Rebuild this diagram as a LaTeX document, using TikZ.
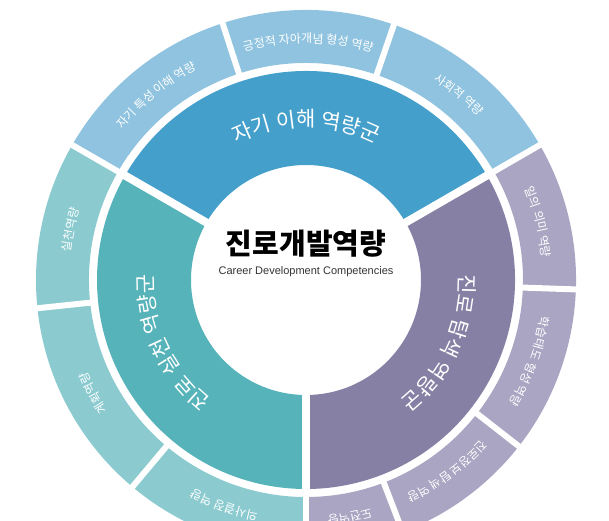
\documentclass[tikz,border=0pt]{standalone}
\usepackage{fontspec}
\newfontfamily\kr{Noto Sans CJK KR}
\newfontfamily\lat{Liberation Sans}
\usetikzlibrary{decorations.text}
\definecolor{tin}{HTML}{459FCB}\definecolor{tout}{HTML}{8FC3DF}
\definecolor{lin}{HTML}{55B3B9}\definecolor{lout}{HTML}{8BCBD0}
\definecolor{rin}{HTML}{8780A5}\definecolor{rout}{HTML}{A9A5C2}
\newcommand{\seg}[5]{\fill[#5] (#1:#3pt) arc[start angle=#1,end angle=#2,radius=#3pt] -- (#2:#4pt) arc[start angle=#2,end angle=#1,radius=#4pt] -- cycle;}
\newcommand{\lab}[5]{\path[decorate,decoration={text along path,text align=center,text color=white,text={|\kr\fontsize{#4}{#4}\selectfont|#5}}] (#1:#3pt) arc[start angle=#1,end angle=#2,radius=#3pt];}
\tikzset{gapline/.style={white,line width=#1}}
\begin{document}
\begin{tikzpicture}
\useasboundingbox (-306pt,-240pt) rectangle (303pt,280pt);
\clip (-306pt,-240pt) rectangle (303pt,280pt);
% inner ring
\seg{30}{150}{115}{209}{tin}
\seg{150}{270}{115}{209}{lin}
\seg{-90}{30}{115}{209}{rin}
% outer ring
\seg{30}{150}{217}{270}{tout}
\seg{150}{270}{217}{270}{lout}
\seg{-90}{30}{217}{270}{rout}
% gaps
\foreach \a in {30,150,270} \draw[gapline=8pt] (\a:100pt) -- (\a:214pt);
\foreach \a in {150,108,71,30,-2,-38,-69,186,230,270} \draw[gapline=6pt] (\a:212pt) -- (\a:280pt);
% inner labels
\lab{150}{30}{153}{21pt}{자기 이해 역량군}
\lab{40}{-90}{153}{21pt}{진로 탐색 역량군}
\lab{270}{140}{153}{21pt}{진로 실천 역량군}
% outer labels
\lab{150}{108}{237}{12pt}{자기 특성 이해 역량}
\lab{108}{71}{237}{12pt}{긍정적 자아개념 형성 역량}
\lab{71}{30}{237}{12pt}{사회적 역량}
\lab{30}{-2}{237}{12pt}{일의 의미 역량}
\lab{-2}{-38}{237}{12pt}{학습태도 형성 역량}
\lab{-38}{-69}{237}{12pt}{진로정보 탐색 역량}
\lab{-69}{-90}{237}{12pt}{도전역량}
\lab{270}{230}{237}{12pt}{의사결정 역량}
\lab{230}{186}{237}{12pt}{계획역량}
\lab{186}{150}{237}{12pt}{실천역량}
% centre
\node[font=\kr\bfseries\fontsize{29pt}{31pt}\selectfont] (title) at (0pt,36pt) {진로개발역량};
\node[font=\lat\fontsize{11pt}{13pt}\selectfont,text=black!80] (sub) at (0pt,8pt) {Career Development Competencies};
\end{tikzpicture}
\end{document}
